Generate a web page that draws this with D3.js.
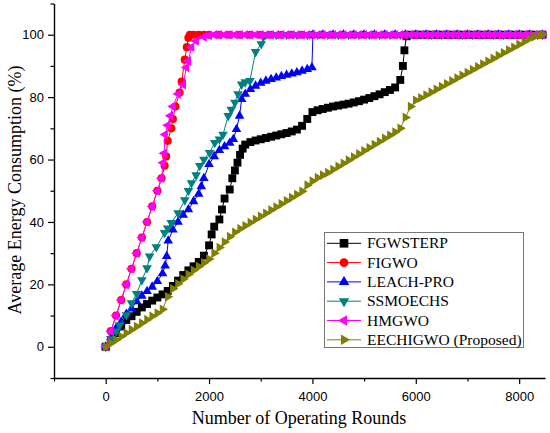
<!DOCTYPE html>
<html>
<head>
<meta charset="utf-8">
<script src="https://cdn.jsdelivr.net/npm/d3@7"></script>
<style>
  body { margin: 0; background: #fff; }
</style>
</head>
<body>
<svg id="chart" width="550" height="433"></svg>
<script>
// ---------------- data ----------------
const seriesNames = ["FGWSTERP", "FIGWO", "LEACH-PRO", "SSMOECHS", "HMGWO", "EECHIGWO (Proposed)"];
const seriesColors = ["#000000", "#ff0000", "#0000ff", "#008080", "#ff00ff", "#808000"];

const xTicks = [0, 2000, 4000, 6000, 8000];
const xMinorTicks = [-1000, 1000, 3000, 5000, 7000];
const yTicks = [0, 20, 40, 60, 80, 100];
const yMinorTicks = [-10, 10, 30, 50, 70, 90, 110];

const fgwsterp = [[0,0],[100,2.2],[200,4.4],[300,6.5],[400,8.6],[500,9.8],[600,11.2],[700,12.6],[800,13.7],[900,14.8],[1000,15.8],[1100,16.8],[1200,17.9],[1300,19.5],[1400,21.2],[1500,23],[1600,24.5],[1700,25.8],[1800,27.2],[1900,29.2],[2000,32.5],[2050,36],[2100,38.5],[2200,40.8],[2250,44],[2300,47.5],[2400,50.4],[2450,54],[2500,56.5],[2550,59],[2600,61.5],[2650,63.5],[2700,64.8],[2800,65.6],[2900,66.1],[3000,66.5],[3100,66.9],[3200,67.3],[3300,67.7],[3400,68.1],[3500,68.5],[3600,69],[3700,69.6],[3800,70.8],[3900,73],[4000,75.2],[4100,75.8],[4200,76.2],[4300,76.6],[4400,77],[4500,77.3],[4600,77.6],[4700,77.9],[4800,78.3],[4900,78.7],[5000,79.2],[5100,79.7],[5200,80.3],[5300,80.9],[5400,81.6],[5500,82.3],[5600,83.1],[5700,85.5],[5750,90],[5780,95],[5820,99.5],[5900,100],[6000,100],[6100,100],[6200,100],[6300,100],[6400,100],[6500,100],[6600,100],[6700,100],[6800,100],[6900,100],[7000,100],[7100,100],[7200,100],[7300,100],[7400,100],[7500,100],[7600,100],[7700,100],[7800,100],[7900,100],[8000,100],[8100,100],[8200,100],[8300,100],[8450,100]];

const figwo = [[0,0],[100,5],[200,10],[300,15],[400,20],[500,25],[600,30],[700,35],[800,40],[900,45],[1000,50],[1080,54],[1140,58],[1170,61],[1200,66],[1270,70],[1300,73],[1350,77],[1430,81.5],[1470,85],[1530,92],[1570,96],[1600,99],[1630,100],[1700,100],[1800,100],[1900,100],[2000,100],[2200,100],[2400,100],[2600,100],[2800,100],[3000,100],[3200,100],[3400,100],[3600,100],[3800,100],[4000,100],[4200,100],[4400,100],[4600,100],[4800,100],[5000,100],[5200,100],[5400,100],[5600,100],[5800,100],[6000,100],[6200,100],[6400,100],[6600,100],[6800,100],[7000,100],[7200,100],[7400,100],[7600,100],[7800,100],[8000,100],[8200,100],[8450,100]];

const leachPro = [[0,0],[100,3],[200,5.9],[300,8],[400,10.5],[500,12.2],[600,14.5],[700,16.3],[800,17.8],[900,19.2],[1000,21],[1100,23.5],[1150,26],[1180,29],[1210,34],[1300,37.5],[1400,40],[1500,42.2],[1600,44],[1700,46.6],[1800,49],[1850,51.4],[1900,54],[2000,58.5],[2100,61],[2200,63],[2300,64.2],[2400,65.3],[2470,66.5],[2530,69.7],[2590,74],[2630,79.3],[2700,81],[2800,82.5],[2900,83.6],[3000,84.5],[3100,85.2],[3200,85.7],[3300,86.2],[3400,86.7],[3500,87.1],[3600,87.5],[3700,87.9],[3800,88.4],[3900,88.9],[3990,89.5],[4010,100],[4200,100],[4400,100],[4600,100],[4800,100],[5000,100],[5200,100],[5400,100],[5600,100],[5800,100],[6000,100],[6200,100],[6400,100],[6600,100],[6800,100],[7000,100],[7200,100],[7400,100],[7600,100],[7800,100],[8000,100],[8200,100],[8450,100]];

const ssmoechs = [[0,0],[100,2.5],[200,5],[270,7],[400,10.2],[500,14],[600,17],[700,21.4],[800,25.2],[850,29],[980,32],[1140,36.5],[1200,38],[1270,39.7],[1400,42.9],[1530,47],[1600,50],[1660,52.5],[1750,55],[1820,58],[1900,60],[2010,62.2],[2110,65.4],[2200,66.5],[2270,68],[2370,74],[2430,76],[2500,78.3],[2560,81],[2630,84.1],[2700,84.8],[2790,85.2],[2900,94.5],[3010,97],[3050,99.3],[3100,100],[3300,100],[3500,100],[3700,100],[3900,100],[4100,100],[4300,100],[4500,100],[4700,100],[4900,100],[5100,100],[5300,100],[5500,100],[5700,100],[5900,100],[6100,100],[6300,100],[6500,100],[6700,100],[6900,100],[7100,100],[7300,100],[7500,100],[7700,100],[7900,100],[8100,100],[8300,100],[8450,100]];

const hmgwo = [[0,0],[100,5],[200,10],[300,15],[400,20],[500,25],[600,30],[700,35],[800,40],[900,45],[1000,50],[1080,54],[1110,59],[1130,62],[1150,68],[1200,71],[1250,74],[1300,77],[1400,81],[1500,84],[1560,89.5],[1600,91.6],[1660,96],[1750,98],[1900,99.3],[2000,99.8],[2100,100],[2200,100],[2300,100],[2400,100],[2500,100],[2600,100],[2700,100],[2800,100],[2900,100],[3000,100],[3100,100],[3200,100],[3300,100],[3400,100],[3500,100],[3600,100],[3700,100],[3800,100],[3900,100],[4000,100],[4100,100],[4200,100],[4300,100],[4400,100],[4500,100],[4600,100],[4700,100],[4800,100],[4900,100],[5000,100],[5100,100],[5200,100],[5300,100],[5400,100],[5500,100],[5600,100],[5700,100],[5800,100],[5900,100],[6000,100],[6100,100],[6200,100],[6300,100],[6400,100],[6500,100],[6600,100],[6700,100],[6800,100],[6900,100],[7000,100],[7100,100],[7200,100],[7300,100],[7400,100],[7500,100],[7600,100],[7700,100],[7800,100],[7900,100],[8000,100],[8100,100],[8200,100],[8300,100],[8400,100],[8450,100]];

const eechigwo = [[0,0],[100,1.1],[200,2.2],[300,3.3],[400,4.4],[500,5.5],[600,6.5],[700,7.6],[800,8.7],[900,9.8],[1000,10.8],[1100,12],[1200,16],[1300,18.6],[1400,20.2],[1500,21.7],[1600,23.2],[1700,24.5],[1800,25.7],[1900,26.9],[2000,28.1],[2100,30],[2200,31.8],[2300,33.6],[2400,35.3],[2500,36.7],[2600,37.8],[2700,38.8],[2800,39.8],[2900,40.8],[3000,41.8],[3100,42.8],[3200,43.8],[3300,44.8],[3400,45.8],[3500,46.8],[3600,47.8],[3700,48.8],[3800,49.8],[3900,51.8],[4000,53.1],[4100,54.2],[4200,55],[4300,55.8],[4400,56.8],[4500,57.8],[4600,58.8],[4700,59.8],[4800,60.8],[4900,61.8],[5000,62.8],[5100,63.8],[5200,64.8],[5300,65.8],[5400,66.8],[5500,67.8],[5600,68.8],[5700,70],[5800,73.5],[5900,77],[6000,79],[6100,79.8],[6200,80.7],[6300,81.6],[6400,82.5],[6500,83.4],[6600,84.3],[6700,85.2],[6800,86.1],[6900,87],[7000,87.9],[7100,88.8],[7200,89.7],[7300,90.6],[7400,91.5],[7500,92.4],[7600,93.3],[7700,94.2],[7800,95.1],[7900,96],[8000,96.9],[8100,97.8],[8200,98.7],[8300,99.4],[8400,99.8],[8450,100]];

const seriesData = [fgwsterp, figwo, leachPro, ssmoechs, hmgwo, eechigwo];

// ---------------- layout ----------------
const svg = d3.select("#chart");
const plot = { left: 54, right: 545, top: 3.5, bottom: 378 };

const x = d3.scaleLinear().domain([-1000, 8500]).range([plot.left, plot.right]);
const y = d3.scaleLinear().domain([-10, 110]).range([plot.bottom, plot.top]);

const sansFont = "'Liberation Sans', Arial, sans-serif";
const serifFont = "'Liberation Serif', 'Times New Roman', serif";

// marker shapes: square, circle, up, down, left, right
const markerTypes = [
  { type: d3.symbolSquare, size: 62, rot: 0 },
  { type: d3.symbolCircle, size: 52, rot: 0 },
  { type: d3.symbolTriangle, size: 40, rot: 0 },
  { type: d3.symbolTriangle, size: 40, rot: 180 },
  { type: d3.symbolTriangle, size: 40, rot: -90 },
  { type: d3.symbolTriangle, size: 40, rot: 90 }
];

// ---------------- axes ----------------
function styleAxis(g) {
  g.select(".domain").attr("stroke", "#000").attr("stroke-width", 1.4);
  g.selectAll(".tick line").attr("stroke", "#000").attr("stroke-width", 1.2);
  g.selectAll("text").attr("font-family", sansFont).attr("font-size", 13).attr("fill", "#000");
}

svg.append("g")
  .attr("transform", `translate(0,${plot.bottom})`)
  .call(d3.axisBottom(x).tickValues(xTicks).tickSize(6).tickSizeOuter(0).tickPadding(8).tickFormat(d3.format("d")))
  .call(styleAxis);

svg.append("g")
  .attr("transform", `translate(0,${plot.bottom})`)
  .call(d3.axisBottom(x).tickValues(xMinorTicks).tickSize(3.5).tickSizeOuter(0).tickFormat(""))
  .call(g => g.select(".domain").remove())
  .call(styleAxis);

svg.append("g")
  .attr("transform", `translate(${plot.left},0)`)
  .call(d3.axisLeft(y).tickValues(yTicks).tickSize(6).tickSizeOuter(0).tickPadding(4))
  .call(styleAxis);

svg.append("g")
  .attr("transform", `translate(${plot.left},0)`)
  .call(d3.axisLeft(y).tickValues(yMinorTicks).tickSize(3.5).tickSizeOuter(0).tickFormat(""))
  .call(g => g.select(".domain").remove())
  .call(styleAxis);

// axis titles
svg.append("text")
  .attr("x", 299)
  .attr("y", 424)
  .attr("text-anchor", "middle")
  .attr("font-family", serifFont)
  .attr("font-size", 18)
  .text("Number of Operating Rounds");

svg.append("text")
  .attr("transform", `translate(21,190) rotate(-90)`)
  .attr("text-anchor", "middle")
  .attr("font-family", serifFont)
  .attr("font-size", 18)
  .text("Average Energy Consumption (%)");

// ---------------- series ----------------
const line = d3.line().x(d => x(d[0])).y(d => y(d[1]));

seriesData.forEach((data, i) => {
  const g = svg.append("g").attr("class", "series");
  g.append("path")
    .datum(data)
    .attr("d", line)
    .attr("fill", "none")
    .attr("stroke", seriesColors[i])
    .attr("stroke-width", 1);

  const m = markerTypes[i];
  g.selectAll("path.marker")
    .data(data)
    .enter()
    .append("path")
    .attr("class", "marker")
    .attr("d", d3.symbol().type(m.type).size(m.size))
    .attr("transform", d => `translate(${x(d[0])},${y(d[1])}) rotate(${m.rot})`)
    .attr("fill", seriesColors[i]);
});

// ---------------- legend ----------------
const legend = svg.append("g").attr("class", "legend");
legend.append("rect")
  .attr("x", 324.5).attr("y", 232.5)
  .attr("width", 199).attr("height", 115)
  .attr("fill", "#fff")
  .attr("stroke", "#777")
  .attr("stroke-width", 1);

seriesNames.forEach((name, i) => {
  const ly = 243.3 + i * 19.3;
  legend.append("line")
    .attr("x1", 327).attr("x2", 361)
    .attr("y1", ly).attr("y2", ly)
    .attr("stroke", seriesColors[i])
    .attr("stroke-width", 1);
  const m = markerTypes[i];
  legend.append("path")
    .attr("d", d3.symbol().type(m.type).size(m.size * 1.2))
    .attr("transform", `translate(344,${ly}) rotate(${m.rot})`)
    .attr("fill", seriesColors[i]);
  legend.append("text")
    .attr("x", 367)
    .attr("y", ly + 5)
    .attr("font-family", serifFont)
    .attr("font-size", 15.5)
    .text(name);
});
</script>
</body>
</html>
